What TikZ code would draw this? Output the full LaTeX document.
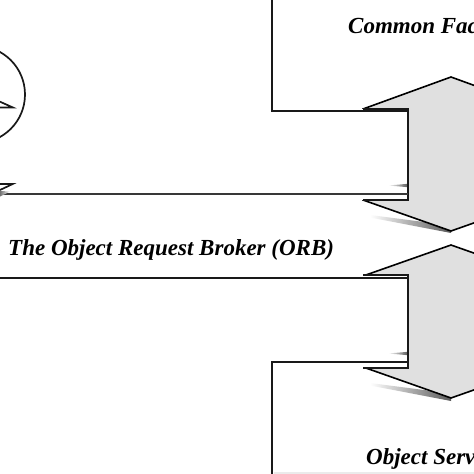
\documentclass[tikz,border=0pt]{standalone}
\usepackage{fontspec}
\setmainfont{Liberation Serif}
\begin{document}
\begin{tikzpicture}[x=1pt,y=-1pt,
  edge/.style={line width=1.7pt,black!90},
  bus/.style={line width=1.9pt,black!78},
  arrowbody/.style={fill=black!12,draw=black,line width=1.6pt,line join=miter},
  label/.style={font=\fontsize{23}{28}\selectfont\bfseries\itshape,inner sep=0pt,anchor=base west},
  shadowstreak/.style={left color=white,right color=black!65}]
\useasboundingbox (0,0) rectangle (474,474);
\clip (0,0) rectangle (474,474);
\fill[white] (0,0) rectangle (474,474);

% shadows of the two double arrows
\foreach \dy in {0,168}{
  \shade[shadowstreak] (370,{215+\dy}) -- (451,{225.5+\dy}) -- (451,{233+\dy}) -- (370,{217.5+\dy}) -- cycle;
}

% double arrows (hexagons)
\coordinate (a1t) at (451,77);
\coordinate (a1b) at (451,231);
\draw[arrowbody] (a1t) -- (363,109) -- (363,200) -- (a1b) -- (539,200) -- (539,109) -- cycle;
\coordinate (a2t) at (451,245);
\coordinate (a2b) at (451,398);
\draw[arrowbody] (a2t) -- (363,276) -- (363,367) -- (a2b) -- (539,367) -- (539,276) -- cycle;

% white connector rectangles
\fill[white] (360,109) rectangle (408,200);
\fill[white] (360,275) rectangle (408,368);
\shade[shadowstreak] (388,185.5) -- (408,183.8) -- (408,187.2) -- cycle;
\shade[shadowstreak] (388,353.5) -- (408,351.8) -- (408,355.2) -- cycle;

% Common Facilities box
\draw[edge] (272,0) -- (272,111) -- (408,111);
% connector 1
\draw[edge] (363,109) -- (408,109) -- (408,200) -- (363,200);
% ORB bus
\draw[bus] (0,194.3) -- (408,194.3);
\draw[edge] (0,277.7) -- (408,277.7);
% connector 2
\draw[edge] (363,275.3) -- (408,275.3) -- (408,367.7) -- (363,367.7);
% Object Services box
\draw[edge] (272,474) -- (272,362) -- (408,362);
\fill[black!8] (274,472) rectangle (474,474);

% left side: application object and arrow
\draw[edge] (-23.6,94.5) circle[radius=48.6];
\draw[edge,line join=miter] (0,101.7) -- (12.7,107.4) -- (0,107.4);
\draw[edge,line join=miter] (0,184) -- (12.7,184) -- (0,190);
\shade[left color=black!55,right color=white] (0,191) -- (10,191.5) -- (0,196.5) -- cycle;

% labels
\node[label] (cf) at (348,33) {Common Facilities};
\node[label] (orb) at (8,255.3) {The Object Request Broker (ORB)};
\node[label] (os) at (366,464.5) {Object Services};
\end{tikzpicture}
\end{document}
